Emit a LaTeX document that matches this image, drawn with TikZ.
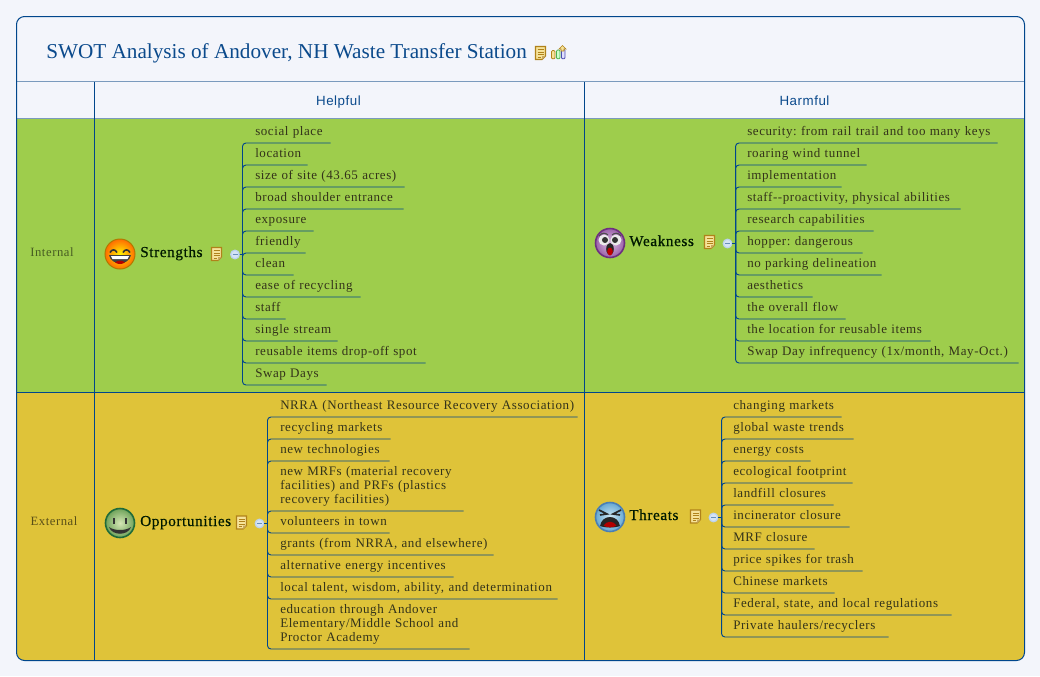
\documentclass[tikz,border=0pt]{standalone}
\usepackage{fontspec}
\setmainfont[LetterSpace=4.5]{Liberation Serif}
\newfontfamily\titlefont{Liberation Serif}
\newfontfamily\parentfont[LetterSpace=4,FakeBold=0.5]{Liberation Serif}
\newfontfamily\headfont[LetterSpace=4]{Liberation Sans}
\frenchspacing
\definecolor{bgc}{HTML}{F3F5FB}
\definecolor{linec}{HTML}{00468C}
\definecolor{sepc}{HTML}{7A9ABD}
\definecolor{greenc}{HTML}{9ECD4C}
\definecolor{yellowc}{HTML}{DFC339}
\definecolor{titlec}{HTML}{0B4A8C}
\definecolor{topicc}{HTML}{33331A}
\definecolor{notefill}{HTML}{F6E39A}
\definecolor{notedraw}{HTML}{B0821A}
\definecolor{collapsefill}{HTML}{D5E3F5}
\definecolor{collapsedraw}{HTML}{BCD3EF}
\tikzset{
  x=0.75pt, y=-0.75pt,
  titlenode/.style={anchor=base west,inner sep=0,text=titlec,font={\titlefont\fontsize{15.9pt}{18pt}\selectfont}},
  headnode/.style={anchor=base,inner sep=0,text=titlec,font={\headfont\fontsize{10pt}{12pt}\selectfont}},
  rownode/.style={inner sep=0,text=black!60!yellowc,font={\fontsize{9.5pt}{12pt}\selectfont}},
  parentnode/.style={anchor=base west,inner sep=0,text=black!90!green,font={\parentfont\fontsize{11.4pt}{14pt}\selectfont}},
  topicnode/.style={anchor=south west,inner xsep=0,inner ysep=0,align=left,text=topicc,font={\fontsize{9.75pt}{10.5pt}\selectfont}},
  connect/.style={draw=linec,line width=0.7pt,rounded corners=2.6pt},
  collapse/.style={circle,draw=collapsedraw,fill=collapsefill,line width=0.9pt,minimum size=6.5pt,inner sep=0},
  minusbar/.style={draw=linec!60!white,line width=0.6pt},
  gridline/.style={draw=linec,line width=0.75pt},
  sepline/.style={draw=sepc,line width=1pt},
  noteline/.style={draw=notedraw,line width=0.75pt},
}
\newcommand{\noteicon}[2]{%
  \begin{scope}[shift={(#1,#2)}]
  \fill[notefill,draw=notedraw,line width=0.9pt] (-5,-6.5) -- (5,-6.5) -- (5,3) -- (1.5,6.5) -- (-5,6.5) -- cycle;
  \fill[notedraw!70!white] (5,3) -- (1.5,3) -- (1.5,6.5) -- cycle;
  \foreach \yy in {-3.5,-1,1.5}{\draw[noteline] (-3,\yy) -- (3,\yy);}
  \draw[noteline] (-3,4) -- (0.5,4);
  \end{scope}}
\newcommand{\tgap}{9.4pt}
\newcommand{\topic}[6]{% name, collapse node, text x, underline y, end x, text
  \pgfmathsetmacro{\tpw}{(#5-#3)*0.75}
  \node[topicnode,text width=\tpw pt] (#1) at (#3,#4) {#6\rule[-5.6pt]{0pt}{0pt}};
  \coordinate (#1j) at ([xshift=-\tgap]#1.south west |- #2.east);
  \draw[connect] (#2.east) -- (#1j);
  \draw[connect] (#1j) -- ([xshift=-\tgap]#1.south west) -- (#1.south east);
}
\begin{document}
\begin{tikzpicture}
\useasboundingbox (0,0) rectangle (1040,676);
\fill[bgc] (0,0) rectangle (1040,676);
% bands
\begin{scope}
\clip[rounded corners=6pt] (16.5,16.5) rectangle (1024.5,660.5);
\fill[greenc] (16.5,118.5) rectangle (1024.5,392.5);
\fill[yellowc] (16.5,392.5) rectangle (1024.5,660.5);
\end{scope}
\draw[sepline] (16.5,81.5) -- (1024.5,81.5);
\draw[sepline] (16.5,118.5) -- (1024.5,118.5);
\draw[gridline] (94.5,81.5) -- (94.5,660.5);
\draw[gridline] (584.5,81.5) -- (584.5,660.5);
\draw[gridline] (16.5,392.5) -- (1024.5,392.5);
\draw[gridline,rounded corners=6pt] (16.5,16.5) rectangle (1024.5,660.5);
% title
\node[titlenode] (title) at (46,58) {SWOT Analysis of Andover, NH Waste Transfer Station};
\noteicon{540.5}{53}
\draw[notedraw,fill=notefill,line width=0.6pt,rounded corners=0.8pt] (551.5,50.5) rectangle (555,58.8);
\draw[green!40!gray,fill=green!20!white,line width=0.6pt,rounded corners=0.8pt] (556.5,50) rectangle (560,58.8);
\draw[blue!40!gray,fill=blue!12!white,line width=0.6pt,rounded corners=0.8pt] (561.5,49.3) rectangle (565,58.8);
\fill[notefill,draw=notedraw,line width=0.5pt] (562.5,45.5) -- (566,49) -- (564,49) -- (564,51) -- (561,51) -- (561,49) -- (559,49) -- cycle;
\node[headnode] (helpful) at (338.5,105) {Helpful};
\node[headnode] (harmful) at (804.5,105) {Harmful};
\node[rownode,text=black!55!greenc] (internal) at (52,252) {Internal};
\node[rownode] (external) at (54,521) {External};
% Strengths
\node[parentnode] (strengths) at (140,257) {Strengths};
\noteicon{216.5}{254}
\node[collapse] (cs) at (235,254.5) {};
\draw[minusbar] (232.5,254.5) -- (237.5,254.5);
\begin{scope}[shift={(120,254)}]
\shade[inner color=yellow!90!orange,outer color=orange!85!red,draw=orange!60!black!75!yellow,line width=0.75pt] (0,0) circle (15);
\draw[black!80,line width=1.2pt] (-10,-1.5) .. controls (-8,-5) and (-5,-5) .. (-3,-1.5);
\draw[black!80,line width=1.2pt] (3,-1.5) .. controls (5,-5) and (8,-5) .. (10,-1.5);
\fill[black!75] (-11,1) .. controls (-9,12) and (9,12) .. (11,1) -- cycle;
\fill[white] (-9,2) -- (9,2) -- (7.5,5) -- (-7.5,5) -- cycle;
\fill[red!70!black] (-5,8.5) .. controls (-2,6) and (2,6) .. (5,8.5) .. controls (2,10.5) and (-2,10.5) .. (-5,8.5);
\end{scope}
\topic{s1}{cs}{255}{143}{330}{social place}
\topic{s2}{cs}{255}{165}{307}{location}
\topic{s3}{cs}{255}{187}{404}{size of site (43.65 acres)}
\topic{s4}{cs}{255}{209}{403}{broad shoulder entrance}
\topic{s5}{cs}{255}{231}{313}{exposure}
\topic{s6}{cs}{255}{253}{305}{friendly}
\topic{s7}{cs}{255}{275}{293}{clean}
\topic{s8}{cs}{255}{297}{360}{ease of recycling}
\topic{s9}{cs}{255}{319}{285}{staff}
\topic{s10}{cs}{255}{341}{337}{single stream}
\topic{s11}{cs}{255}{363}{425}{reusable items drop-off spot}
\topic{s12}{cs}{255}{385}{326}{Swap Days}
% Weakness
\renewcommand{\tgap}{8.6pt}
\node[parentnode] (weakness) at (629,246) {Weakness};
\noteicon{709.5}{242}
\node[collapse] (cw) at (727.5,243.5) {};
\draw[minusbar] (725,243.5) -- (730,243.5);
\begin{scope}[shift={(610,243)}]
\definecolor{pi}{HTML}{DDBCE4}\definecolor{po}{HTML}{9A62A8}\definecolor{pd}{HTML}{6E2F80}
\shade[inner color=pi,outer color=po,draw=pd,line width=1.2pt] (0,0) circle (14.5);
\fill[white!92!black] (-6,-3) circle (5.5); \fill[white!92!black] (6,-3) circle (5.5);
\fill[black!80] (-5,-3) circle (3); \fill[black!80] (5,-3) circle (3);
\draw[black!70,line width=0.8pt] (-11,-7) .. controls (-8,-11) and (-4,-10) .. (-2,-8);
\draw[black!70,line width=0.8pt] (11,-7) .. controls (8,-11) and (4,-10) .. (2,-8);
\fill[black!85] (0,6) ellipse (3.8 and 6);
\fill[red!75!black] (0,8.5) ellipse (2.8 and 4);
\end{scope}
\topic{w1}{cw}{747}{143}{997}{security: from rail trail and too many keys}
\topic{w2}{cw}{747}{165}{866}{roaring wind tunnel}
\topic{w3}{cw}{747}{187}{841}{implementation}
\topic{w4}{cw}{747}{209}{960}{staff-{}-proactivity, physical abilities}
\topic{w5}{cw}{747}{231}{873}{research capabilities}
\topic{w6}{cw}{747}{253}{862}{hopper: dangerous}
\topic{w7}{cw}{747}{275}{881}{no parking delineation}
\topic{w8}{cw}{747}{297}{812}{aesthetics}
\topic{w9}{cw}{747}{319}{845}{the overall flow}
\topic{w10}{cw}{747}{341}{930}{the location for reusable items}
\topic{w11}{cw}{747}{363}{1018}{Swap Day infrequency (1x/month, May-Oct.)}
% Opportunities
\renewcommand{\tgap}{9.4pt}
\node[parentnode] (opportunities) at (140,526) {Opportunities};
\noteicon{241.5}{522.5}
\node[collapse] (co) at (259.5,523.5) {};
\draw[minusbar] (257,523.5) -- (262,523.5);
\begin{scope}[shift={(120,523)}]
\definecolor{gi}{HTML}{D5E6B5}\definecolor{go}{HTML}{6FA35A}\definecolor{gd}{HTML}{1F6B3A}
\shade[inner color=gi,outer color=go,draw=gd,line width=1.2pt] (0,0) circle (14.5);
\fill[black!80] (-7,-5) rectangle (-5,1); \fill[black!80] (5,-5) rectangle (7,1);
\fill[black!80] (-11,4) .. controls (-6,8) and (6,8) .. (11,4) .. controls (8,13) and (-8,13) .. (-11,4) -- cycle;
\end{scope}
\topic{o1}{co}{280}{417}{577}{NRRA (Northeast Resource Recovery Association)}
\topic{o2}{co}{280}{439}{390}{recycling markets}
\topic{o3}{co}{280}{461}{389}{new technologies}
\topic{o4}{co}{280}{511}{463}{new MRFs (material recovery\\facilities) and PRFs (plastics\\recovery facilities)}
\topic{o5}{co}{280}{533}{389}{volunteers in town}
\topic{o6}{co}{280}{555}{493}{grants (from NRRA, and elsewhere)}
\topic{o7}{co}{280}{577}{453}{alternative energy incentives}
\topic{o8}{co}{280}{599}{557}{local talent, wisdom, ability, and determination}
\topic{o9}{co}{280}{649}{469}{education through Andover\\Elementary/Middle School and\\Proctor Academy}
% Threats
\renewcommand{\tgap}{8.6pt}
\node[parentnode] (threats) at (629,520) {Threats};
\noteicon{695.5}{516.5}
\node[collapse] (ct) at (713.5,517.5) {};
\draw[minusbar] (711,517.5) -- (716,517.5);
\begin{scope}[shift={(610,517)}]
\definecolor{bi}{HTML}{CFE7F2}\definecolor{bo}{HTML}{66A8D2}\definecolor{bd}{HTML}{4A7FB5}
\shade[inner color=bi,outer color=bo,draw=bd,line width=1.2pt] (0,0) circle (14.5);
\draw[black!85,line width=1.2pt] (-11,-7) -- (-3,-3) -- (-10,-2);
\draw[black!85,line width=1.2pt] (11,-7) -- (3,-3) -- (10,-2);
\fill[black!85] (-10,9) .. controls (-8,-3) and (8,-3) .. (10,9) .. controls (5,11) and (-5,11) .. (-10,9) -- cycle;
\fill[red!70!black] (-6.5,8.5) .. controls (-3,3.5) and (3,3.5) .. (6.5,8.5) .. controls (3,11) and (-3,11) .. (-6.5,8.5) -- cycle;
\end{scope}
\topic{t1}{ct}{733}{417}{841}{changing markets}
\topic{t2}{ct}{733}{439}{853}{global waste trends}
\topic{t3}{ct}{733}{461}{810}{energy costs}
\topic{t4}{ct}{733}{483}{852}{ecological footprint}
\topic{t5}{ct}{733}{505}{833}{landfill closures}
\topic{t6}{ct}{733}{527}{849}{incinerator closure}
\topic{t7}{ct}{733}{549}{814}{MRF closure}
\topic{t8}{ct}{733}{571}{862}{price spikes for trash}
\topic{t9}{ct}{733}{593}{834}{Chinese markets}
\topic{t10}{ct}{733}{615}{951}{Federal, state, and local regulations}
\topic{t11}{ct}{733}{637}{888}{Private haulers/recyclers}
\end{tikzpicture}
\end{document}
